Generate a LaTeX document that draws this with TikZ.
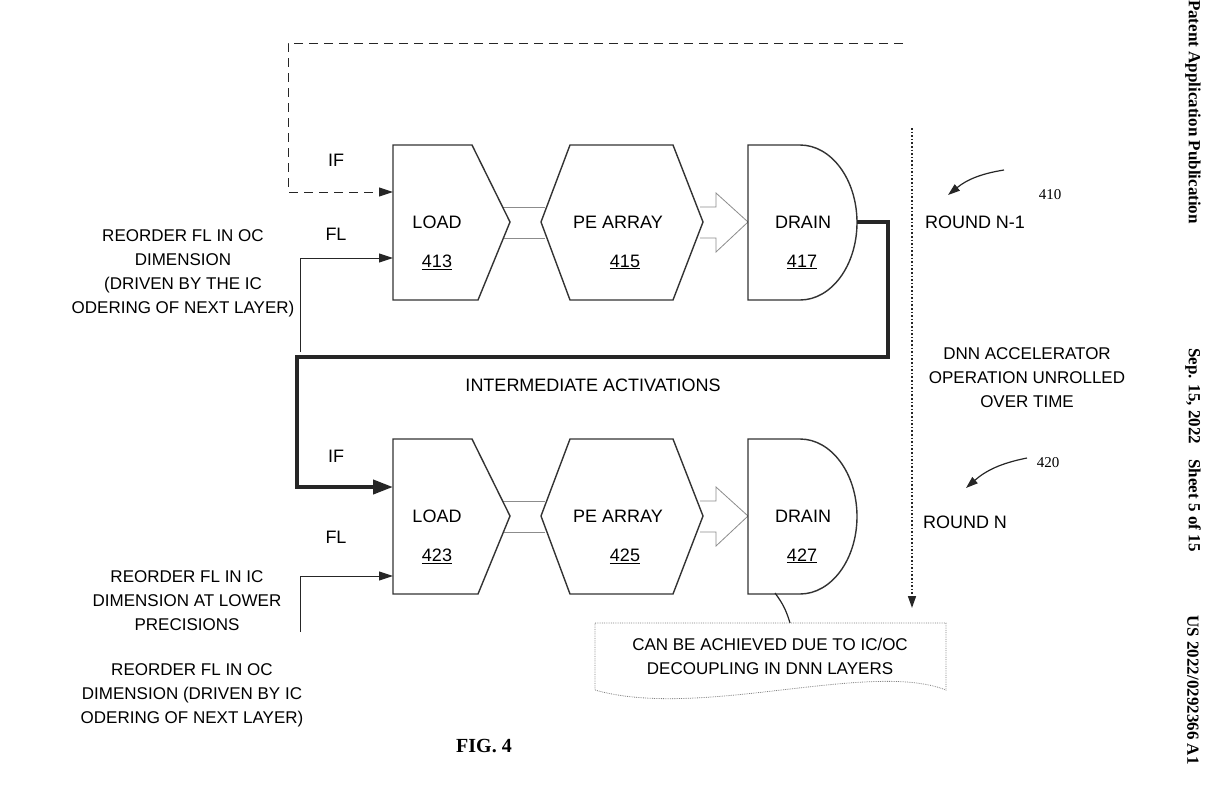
\documentclass[tikz,border=0pt]{standalone}
\usepackage{fontspec}
\setmainfont{Liberation Sans}
\newfontfamily\serifbf{Liberation Serif}
\usetikzlibrary{arrows.meta}
\begin{document}
\begin{tikzpicture}[x=1pt,y=-1pt,
  every node/.style={font=\fontsize{18}{22}\selectfont, inner sep=0pt},
  block/.style={draw=black!80, line width=1.4pt, fill=white},
  thin/.style={draw=black!45, line width=0.8pt},
  feed/.style={draw=black!85, line width=1pt, -{Triangle[length=14pt,width=9pt]}},
  thick/.style={draw=black!85, line width=4pt},
  lbl/.style={align=center, font=\fontsize{17}{24}\selectfont},
  pointer/.style={draw=black!85, line width=1.2pt, -{Triangle[length=12pt,width=8pt]}},
]
\useasboundingbox (0,0) rectangle (1224,801);

% two rounds
\foreach \dy/\a/\b/\c in {0/413/415/417, 294/423/425/427} {
  \begin{scope}[yshift=-\dy pt]
    % connectors between stages
    \draw[thin] (478,207) -- (545,207) (478,238) -- (545,238);
    \draw[thin, fill=white] (700,207) -- (716,207) -- (716,193) -- (748,222)
       -- (716,252) -- (716,238) -- (700,238);
    \draw[block] (393,145) -- (472,145) -- (510,222) -- (478,300) -- (393,300) -- cycle;
    \draw[block] (541,222) -- (570,145) -- (673,145) -- (703,222) -- (673,300) -- (570,300) -- cycle;
    \draw[block] (748,145) -- (800,145) arc[start angle=-90, end angle=90, x radius=57, y radius=77.5]
       -- (748,300) -- cycle;
    \node at (437,222) {LOAD};
    \node at (437,262) {\underline{\a}};
    \node at (618,222) {PE ARRAY};
    \node at (625,262) {\underline{\b}};
    \node at (803,222) {DRAIN};
    \node at (802,262) {\underline{\c}};
  \end{scope}
}

\coordinate (loadA) at (393,192);
\coordinate (loadB) at (393,487);

% dashed IF loop
\draw[feed, dash pattern=on 9pt off 6pt] (903,43) -- (288,43) -- (288,192) -- (loadA);
\node at (336,160) {IF};
% FL feeds
\draw[feed] (300,352) -- (300,258) -- (393,258);
\node at (336,234) {FL};
\draw[feed] (300,632) -- (300,576) -- (393,576);
\node at (336,537) {FL};

% intermediate activations
\draw[thick, -{Triangle[length=20pt,width=14pt]}] (857,222) -- (888,222) -- (888,357)
   -- (297,357) -- (297,487) -- (loadB);
\node at (336,456) {IF};
\node at (593,385) {INTERMEDIATE ACTIVATIONS};

% time axis
\draw[black!85, line width=1.6pt, dotted, -{Triangle[length=12pt,width=8pt]}] (912,128) -- (912,608);
\node[lbl] at (1027,378) {DNN ACCELERATOR\\OPERATION UNROLLED\\OVER TIME};
\node at (975,222) {ROUND N-1};
\node at (965,522) {ROUND N};
\node[font=\serifbf\fontsize{15}{18}\selectfont] at (1050,195) {410};
\node[font=\serifbf\fontsize{15}{18}\selectfont] at (1048,463) {420};
\draw[pointer] (1004,170) to[bend right=15] (948,195);
\draw[pointer] (1027,458) to[bend right=15] (966,488);

% left notes
\node[lbl] at (183,273) {REORDER FL IN OC\\DIMENSION\\(DRIVEN BY THE IC\\ODERING OF NEXT LAYER)};
\node[lbl] at (187,601) {REORDER FL IN IC\\DIMENSION AT LOWER\\PRECISIONS};
\node[lbl] at (192,695) {REORDER FL IN OC\\DIMENSION (DRIVEN BY IC\\ODERING OF NEXT LAYER)};

% callout note
\draw[black!85, line width=1.2pt] (775,593) to[bend left=10] (790,623);
\draw[black!50, line width=0.8pt, densely dotted] (595,623) -- (946,623) -- (946,690)
   .. controls (870,660) and (700,720) .. (595,690) -- cycle;
\node[lbl] (note) at (770,656) {CAN BE ACHIEVED DUE TO IC/OC\\DECOUPLING IN DNN LAYERS};

\node[font=\serifbf\bfseries\fontsize{20}{24}\selectfont] at (484,746) {FIG. 4};

% header
\begin{scope}[every node/.style={font=\serifbf\bfseries\fontsize{17}{20}\selectfont, rotate=-90, inner sep=0pt}]
  \node at (1193,112) {Patent Application Publication};
  \node at (1193,450) {Sep. 15, 2022\hspace{0.9em}Sheet 5 of 15};
  \node at (1193,690) {US 2022/0292366 A1};
\end{scope}
\end{tikzpicture}
\end{document}
